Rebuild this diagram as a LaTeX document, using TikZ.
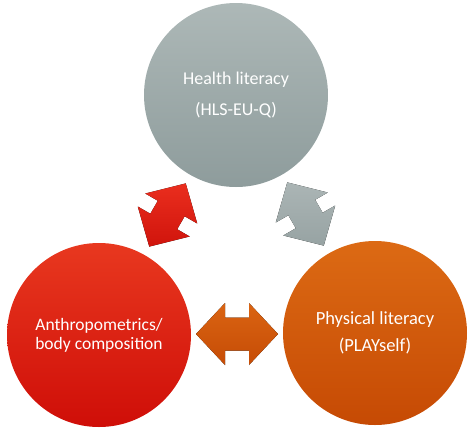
\documentclass[tikz,border=0pt]{standalone}
\usepackage{fontspec}
\setmainfont{Carlito}
\usetikzlibrary{calc}
\definecolor{grayT}{HTML}{ADB8B7}
\definecolor{grayB}{HTML}{8E9C9C}
\definecolor{redT}{HTML}{E8381F}
\definecolor{redB}{HTML}{CF0E08}
\definecolor{orT}{HTML}{DC6A14}
\definecolor{orB}{HTML}{C64A04}
\definecolor{agT}{HTML}{ABB5B5}
\definecolor{agB}{HTML}{97A3A3}
\definecolor{arT}{HTML}{EA2E1E}
\definecolor{arB}{HTML}{D0140C}
\definecolor{aoT}{HTML}{DA6412}
\definecolor{aoB}{HTML}{C64C06}
\tikzset{
  bubble/.style={circle, minimum size=184pt, inner sep=0pt, text=white, align=center},
}
\begin{document}
\begin{tikzpicture}[x=1pt,y=-1pt]
\useasboundingbox (0,0) rectangle (474,440);
\node[bubble, top color=grayT, bottom color=grayB, font=\fontsize{18}{31}\selectfont] (hl) at (236,95) {Health literacy\\(HLS-EU-Q)};
\node[bubble, top color=redT, bottom color=redB, font=\fontsize{17.5}{19}\selectfont] (ab) at (99,335) {Anthropometrics/\\body composition};
\node[bubble, top color=orT, bottom color=orB, font=\fontsize{18.5}{27}\selectfont] (pl) at (375,333) {Physical literacy\\(PLAYself)};
\coordinate (m1) at ($(ab)!0.5!(hl)$);
\coordinate (m2) at ($(hl)!0.5!(pl)$);
\coordinate (m3) at ($(ab)!0.5!(pl)$);
% red double arrow
\begin{scope}[shift={(m1)}, rotate=60]
\fill[top color=arT, bottom color=arB]
  (-36.5,0) -- (-7.5,30) -- (-7.5,15.5) -- (7.5,15.5) -- (7.5,30) -- (36.5,0)
  -- (7.5,-30) -- (7.5,-15.5) -- (-7.5,-15.5) -- (-7.5,-30) -- cycle;
\end{scope}
% gray double arrow
\begin{scope}[shift={(m2)}, rotate=-60]
\fill[top color=agT, bottom color=agB]
  (-36.5,0) -- (-7.5,30) -- (-7.5,15.5) -- (7.5,15.5) -- (7.5,30) -- (36.5,0)
  -- (7.5,-30) -- (7.5,-15.5) -- (-7.5,-15.5) -- (-7.5,-30) -- cycle;
\end{scope}
% orange double arrow
\begin{scope}[shift={(m3)}]
\fill[top color=aoT, bottom color=aoB]
  (-41,0) -- (-12,31) -- (-12,16.5) -- (12,16.5) -- (12,31) -- (41,0)
  -- (12,-31) -- (12,-16.5) -- (-12,-16.5) -- (-12,-31) -- cycle;
\end{scope}
\end{tikzpicture}
\end{document}
